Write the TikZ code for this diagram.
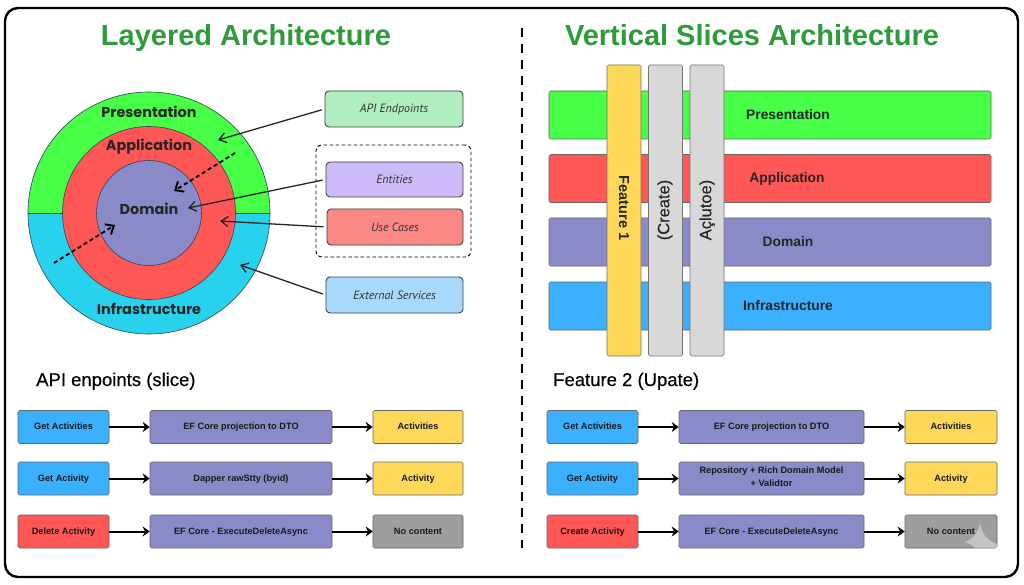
\documentclass[tikz,border=0pt]{standalone}
\usepackage{fontspec}
\usepackage{tikz}
\usetikzlibrary{positioning, arrows.meta}
\setmainfont{Liberation Sans}
\newfontfamily\popfont{Poppins}
\newfontfamily\sketchfont{PT Sans}
\newfontfamily\medfont[FakeBold=0.35]{Liberation Sans}
\definecolor{titlegreen}{RGB}{44,155,58}
\definecolor{laygreen}{RGB}{70,255,70}
\definecolor{layred}{RGB}{255,86,86}
\definecolor{laypurple}{RGB}{138,138,200}
\definecolor{laycyan}{RGB}{40,210,236}
\definecolor{layblue}{RGB}{58,176,255}
\definecolor{layyellow}{RGB}{255,216,90}
\definecolor{laygray}{RGB}{216,216,216}
\definecolor{laydark}{RGB}{158,158,158}
\definecolor{edge}{RGB}{50,70,80}
\definecolor{sketchgreen}{RGB}{176,238,192}
\definecolor{sketchviolet}{RGB}{205,186,248}
\definecolor{sketchred}{RGB}{252,136,134}
\definecolor{sketchblue}{RGB}{168,216,251}

\begin{document}
\begin{tikzpicture}[
    x=1pt, y=-1pt,
    title/.style={anchor=base, font=\fontsize{29}{32}\selectfont\bfseries, text=titlegreen},
    subtitle/.style={anchor=base west, font=\medfont\fontsize{18.5}{20}\selectfont, inner sep=0pt},
    ring/.style={circle, draw=edge, line width=0.6pt, inner sep=0pt},
    ringlabel/.style={font=\popfont\fontsize{14.4}{16}\selectfont\bfseries, text=black!85},
    sketchbox/.style={draw=black!75, rounded corners=4pt, line width=0.9pt, font=\sketchfont\itshape\fontsize{12}{14}\selectfont, text=black!80},
    sketcharrow/.style={-{Straight Barb[length=7pt,width=10pt]}, line width=1.3pt, black!85, shorten <=3pt},
    dotarrow/.style={-{Straight Barb[length=7pt,width=12pt]}, line width=1.9pt, dash pattern=on 4pt off 3pt, black},
    bar/.style={draw=black!60, rounded corners=1.5pt, line width=0.6pt, minimum width=442pt, minimum height=48pt},
    barlabel/.style={font=\fontsize{13.8}{15}\selectfont\bfseries, text=black!85},
    slice/.style={draw=black!55, rounded corners=1.5pt, line width=0.6pt, minimum width=34pt, minimum height=291pt},
    slicelabel/.style={font=\fontsize{14.5}{16}\selectfont\bfseries, text=black!85},
    flowbox/.style={draw=black!60, rounded corners=1.5pt, line width=0.6pt, minimum height=33pt, align=center, font=\fontsize{9.2}{13}\selectfont\bfseries, text=black!90, inner sep=0pt, execute at begin node=\strut},
    req/.style={flowbox, minimum width=91pt},
    proc/.style={flowbox, fill=laypurple, minimum width=182pt},
    resp/.style={flowbox, minimum width=90pt},
    flow/.style={-{Stealth[length=7pt,width=10pt]}, line width=2pt, black}
]
\useasboundingbox (0,0) rectangle (1024,585);
\fill[white] (0,0) rectangle (1024,585);

% Frame and divider
\node[draw=black, line width=2.4pt, rounded corners=13pt, minimum width=1013pt, minimum height=569pt] (frame) at (511.5,292.5) {};
\coordinate (divtop) at (522,28);
\coordinate (divbot) at (522,548);
\draw[line width=1.6pt, dash pattern=on 9pt off 7pt] (divtop) -- (divbot);

% Titles
\node[title] (titleleft) at (246,46) {Layered Architecture};
\node[title] (titleright) at (752,46) {Vertical Slices Architecture};

% Rings
\node[ring, fill=laycyan, minimum size=242pt, path picture={
    \fill[laygreen] (path picture bounding box.north west) rectangle (path picture bounding box.east);
    \draw[edge, line width=0.6pt] (path picture bounding box.west) -- (path picture bounding box.east);
}] (outer) at (149,213) {};
\node[ring, fill=layred, minimum size=173pt] (middle) at (149,213) {};
\node[ring, fill=laypurple, minimum size=105pt] (inner) at (149,213) {};
\node[ringlabel] (lblpres) at (149,112) {Presentation};
\node[ringlabel] (lblapp) at (149,147) {Application};
\node[ringlabel] (lbldom) at (149,209) {Domain};
\node[ringlabel] (lblinf) at (149,309) {Infrastructure};

% Sketch boxes
\node[draw=black, line width=0.9pt, dash pattern=on 3.5pt off 2.5pt, rounded corners=6pt, minimum width=155pt, minimum height=112pt] (group) at (393.5,201) {};
\node[sketchbox, fill=sketchgreen, minimum width=138pt, minimum height=36pt] (api) at (394,109) {API Endpoints};
\node[sketchbox, fill=sketchviolet, minimum width=137pt, minimum height=35pt] (entities) at (394.5,179.5) {Entities};
\node[sketchbox, fill=sketchred, minimum width=136pt, minimum height=36pt] (usecases) at (395,227) {Use Cases};
\node[sketchbox, fill=sketchblue, minimum width=137pt, minimum height=36pt] (external) at (394.5,295) {External Services};

\coordinate (apiend) at (218,140);
\coordinate (entend) at (188,208);
\coordinate (useend) at (220,221);
\coordinate (extend) at (240,265);
\draw[sketcharrow] (api.west) -- (apiend);
\draw[sketcharrow] (entities.west) -- (entend);
\draw[sketcharrow] (usecases.west) -- (useend);
\draw[sketcharrow] (external.west) -- (extend);

\coordinate (dota) at (235,153);
\coordinate (dotb) at (174,191);
\coordinate (dotc) at (54,263);
\coordinate (dotd) at (115,225);
\draw[dotarrow] (dota) -- (dotb);
\draw[dotarrow] (dotc) -- (dotd);

% Horizontal layers
\node[bar, fill=laygreen] (barpres) at (770,115) {};
\node[bar, fill=layred] (barapp) at (770,178.5) {};
\node[bar, fill=laypurple] (bardom) at (770,242) {};
\node[bar, fill=layblue] (barinf) at (770,306) {};
\node[barlabel] (txtpres) at (788,115) {Presentation};
\node[barlabel] (txtapp) at (787,179) {Application};
\node[barlabel] (txtdom) at (788,242) {Domain};
\node[barlabel] (txtinf) at (788,306) {Infrastructure};

% Vertical slices
\node[slice, fill=layyellow] (feat) at (624,210.5) {};
\node[slice, fill=laygray] (create) at (665.5,210.5) {};
\node[slice, fill=laygray] (third) at (707,210.5) {};
\node[slicelabel, rotate=-90] (txtfeat) at (624,208) {Feature 1};
\node[slicelabel, rotate=90, font=\medfont\fontsize{16.5}{18}\selectfont] (txtcreate) at (665,210) {(Create)};
\node[slicelabel, rotate=90, font=\medfont\fontsize{16.5}{18}\selectfont] (txtthird) at (707,210) {Açlutoe)};

% Left flows
\node[subtitle] (subleft) at (36,386) {API enpoints (slice)};

\node[req, fill=layblue] (la1) at (63.5,427) {Get Activities};
\node[proc] (lb1) at (241,427) {EF Core projection to DTO};
\node[resp, fill=layyellow] (lc1) at (418,427) {Activities};
\draw[flow] (la1) -- (lb1);
\draw[flow] (lb1) -- (lc1);

\node[req, fill=layblue] (la2) at (63.5,478.5) {Get Activity};
\node[proc] (lb2) at (241,478.5) {Dapper rawStty (byid)};
\node[resp, fill=layyellow] (lc2) at (418,478.5) {Activity};
\draw[flow] (la2) -- (lb2);
\draw[flow] (lb2) -- (lc2);

\node[req, fill=layred] (la3) at (63.5,531.5) {Delete Activity};
\node[proc] (lb3) at (241,531.5) {EF Core - ExecuteDeleteAsync};
\node[resp, fill=laydark] (lc3) at (418,531.5) {No content};
\draw[flow] (la3) -- (lb3);
\draw[flow] (lb3) -- (lc3);

% Right flows
\node[subtitle] (subright) at (553,386) {Feature 2 (Upate)};

\node[req, fill=layblue] (ra1) at (592.5,427) {Get Activities};
\node[proc, minimum width=185pt] (rb1) at (771.5,427) {EF Core projection to DTO};
\node[resp, minimum width=92pt, fill=layyellow] (rc1) at (951,427) {Activities};
\draw[flow] (ra1) -- (rb1);
\draw[flow] (rb1) -- (rc1);

\node[req, fill=layblue] (ra2) at (592.5,478.5) {Get Activity};
\node[proc, minimum width=185pt] (rb2) at (771.5,478.5) {Repository + Rich Domain Model\\+ Validtor\strut};
\node[resp, minimum width=92pt, fill=layyellow] (rc2) at (951,478.5) {Activity};
\draw[flow] (ra2) -- (rb2);
\draw[flow] (rb2) -- (rc2);

\node[req, fill=layred] (ra3) at (592.5,531.5) {Create Activity};
\node[proc, minimum width=185pt] (rb3) at (771.5,531.5) {EF Core - ExecuteDeleteAsync};
\node[resp, minimum width=92pt, fill=laydark] (rc3) at (951,531.5) {No content};
\draw[flow] (ra3) -- (rb3);
\draw[flow] (rb3) -- (rc3);

% Pale mark in the corner
\fill[white, opacity=0.4] (980,523) .. controls (982,535) and (988,541) .. (997,544) -- (997,548) -- (975,548) .. controls (972,545) and (968,543) .. (965,542) .. controls (973,539) and (978,533) .. (980,523) -- cycle;

\end{tikzpicture}
\end{document}
